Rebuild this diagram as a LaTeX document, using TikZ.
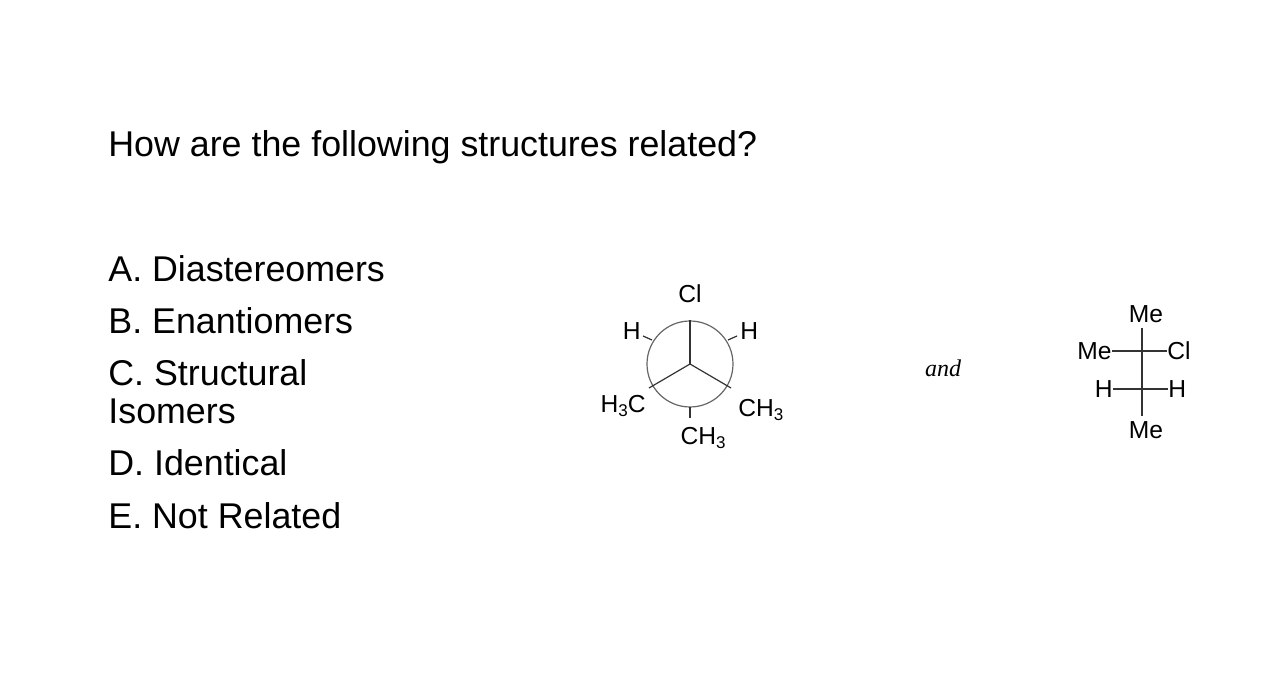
\documentclass[tikz,border=0pt]{standalone}
\usepackage{fontspec}
\setmainfont{Liberation Sans}
\newfontfamily\serifit{Liberation Serif}
\newcommand{\subn}[1]{\raisebox{-0.35ex}{\fontsize{8.5}{10}\selectfont #1}}
\begin{document}
\begin{tikzpicture}[x=0.5pt,y=-0.5pt,
  big/.style={anchor=base west,inner sep=0,font=\fontsize{17.9}{21}\selectfont},
  lab/.style={inner sep=0,font=\fontsize{12.3}{14}\selectfont},
  bond/.style={line width=0.6pt,draw=black!80}]
\useasboundingbox (0,0) rectangle (1274,694);
\node[big] (q) at (108,157) {How are the following structures related?};
\node[big] (a) at (108,282) {A. Diastereomers};
\node[big] (b) at (108,334) {B. Enantiomers};
\node[big] (c) at (108,386) {C. Structural};
\node[big] (c2) at (108,424) {Isomers};
\node[big] (d) at (108,476) {D. Identical};
\node[big] (e) at (108,529) {E. Not Related};
% Newman
\coordinate (n0) at (690,364);
\draw[bond,draw=black!60] (n0) circle (43);
\coordinate (ncl) at (690,320);
\coordinate (nl) at (649,388);
\coordinate (nr) at (731,388);
\draw[bond] (n0) -- (ncl);
\draw[bond] (n0) -- (nl);
\draw[bond] (n0) -- (nr);
\coordinate (bl1) at (652,340); \coordinate (bl2) at (643,336);
\coordinate (br1) at (728,340); \coordinate (br2) at (737,336);
\coordinate (bb1) at (690,407); \coordinate (bb2) at (690,418);
\draw[bond] (bl1) -- (bl2);
\draw[bond] (br1) -- (br2);
\draw[bond] (bb1) -- (bb2);
\node[lab] (tcl) at (690,294) {Cl};
\node[lab,anchor=east] (th1) at (641,331) {H};
\node[lab,anchor=west] (th2) at (740,331) {H};
\node[lab,anchor=east] (th3) at (646,406) {H\subn{3}C};
\node[lab,anchor=west] (tc1) at (738,410) {CH\subn{3}};
\node[lab] (tc2) at (703,438) {CH\subn{3}};
\node[inner sep=0,font=\serifit\itshape\fontsize{12}{14}\selectfont] (and) at (943,368) {and};
% Fischer
\coordinate (ft) at (1142,328); \coordinate (fb) at (1142,416);
\coordinate (f1l) at (1112,351); \coordinate (f1r) at (1167,351);
\coordinate (f2l) at (1113,389); \coordinate (f2r) at (1168,389);
\draw[bond] (ft) -- (fb);
\draw[bond] (f1l) -- (f1r);
\draw[bond] (f2l) -- (f2r);
\node[lab] (m1) at (1146,314) {Me};
\node[lab,anchor=east] (m2) at (f1l) {Me};
\node[lab,anchor=west] (cl2) at (f1r) {Cl};
\node[lab,anchor=east] (h1) at (f2l) {H};
\node[lab,anchor=west] (h2) at (f2r) {H};
\node[lab] (m3) at (1146,430) {Me};
\end{tikzpicture}
\end{document}
